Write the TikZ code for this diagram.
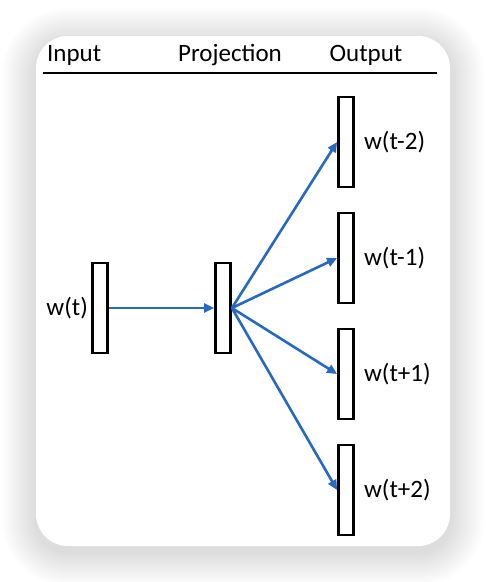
\documentclass[tikz,border=0pt]{standalone}
\usepackage{fontspec}
\setmainfont{Carlito}
\usetikzlibrary{arrows.meta}
\definecolor{linkblue}{RGB}{38,105,192}

\begin{document}
\begin{tikzpicture}[x=1pt,y=-1pt,
  vec/.style={draw,line width=2.8pt,minimum width=15pt,minimum height=90pt,inner sep=0pt},
  link/.style={linkblue,line width=2.6pt,-{Triangle[length=10pt,width=9pt]}},
  lbl/.style={font=\fontsize{25}{28}\selectfont,inner sep=0pt}]
\useasboundingbox (0,0) rectangle (486,582);
% soft shadow under the card
\foreach \r in {2,4,...,34}
  \fill[black,opacity=0.008,rounded corners={32pt+\r pt}] (36-\r,36-\r+6) rectangle (450+\r,546+\r+6);
\fill[white,rounded corners=32pt] (36,36) rectangle (450,546);
% header
\node[lbl,anchor=base west] (hin) at (47,61) {Input};
\node[lbl,anchor=base] (hproj) at (230,61) {Projection};
\node[lbl,anchor=base] (hout) at (366,61) {Output};
\draw[line width=2.8pt] (43,73) -- (437,73);
% layers
\node[vec] (in) at (100,308) {};
\node[vec] (proj) at (223,308) {};
\node[vec] (o1) at (346,142) {};
\node[vec] (o2) at (346,258) {};
\node[vec] (o3) at (346,374) {};
\node[vec] (o4) at (346,490) {};
\node[lbl,anchor=east] at ([xshift=-3pt]in.west) {w(t)};
\node[lbl,anchor=west] at ([xshift=9pt]o1.east) {w(t-2)};
\node[lbl,anchor=west] at ([xshift=9pt]o2.east) {w(t-1)};
\node[lbl,anchor=west] at ([xshift=9pt]o3.east) {w(t+1)};
\node[lbl,anchor=west] at ([xshift=9pt]o4.east) {w(t+2)};
% connections
\draw[link] (in.east) -- (proj.west);
\foreach \o in {o1,o2,o3,o4}
  \draw[link] (proj.east) -- (\o.west);
\end{tikzpicture}
\end{document}
